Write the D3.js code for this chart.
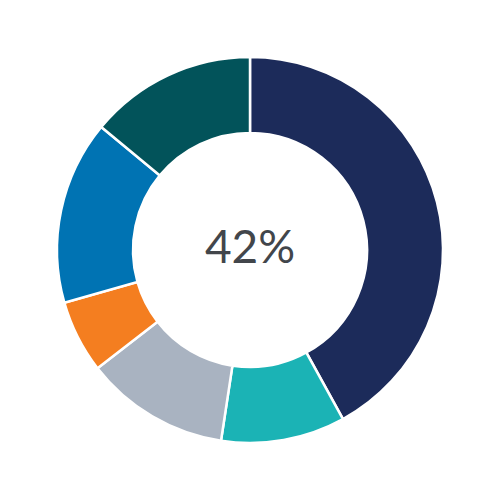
<!DOCTYPE html>
<html><head><meta charset="utf-8">
<script src="https://cdn.jsdelivr.net/npm/d3@7"></script>
<style>html,body{margin:0;padding:0;background:#fff;}</style>
</head><body>
<svg id="c" width="500" height="500"></svg>
<script>
const categories = ["A","B","C","D","E","F"];
const values = [42, 10.4, 12.1, 6.1, 15.4, 14.0];
const colors = ["#1c2b5a","#1bb3b5","#a9b3c1","#f47e20","#0073b3","#02535a"];
const centerLabel = "42%";

const svg = d3.select("#c");
const g = svg.append("g").attr("transform","translate(250,250)");
const pie = d3.pie().sort(null).value(d=>d.v);
const arc = d3.arc().innerRadius(117).outerRadius(193);
const data = categories.map((c,i)=>({c, v: values[i], col: colors[i]}));
g.selectAll("path").data(pie(data)).join("path")
  .attr("d", arc).attr("fill", d=>d.data.col)
  .attr("stroke","#fff").attr("stroke-width",2.5);
g.append("text").attr("text-anchor","middle").attr("y",13)
  .attr("font-family","Lato, sans-serif").attr("font-weight",400)
  .attr("font-size",46).attr("fill","#42464b").text(centerLabel);
</script>
</body></html>
